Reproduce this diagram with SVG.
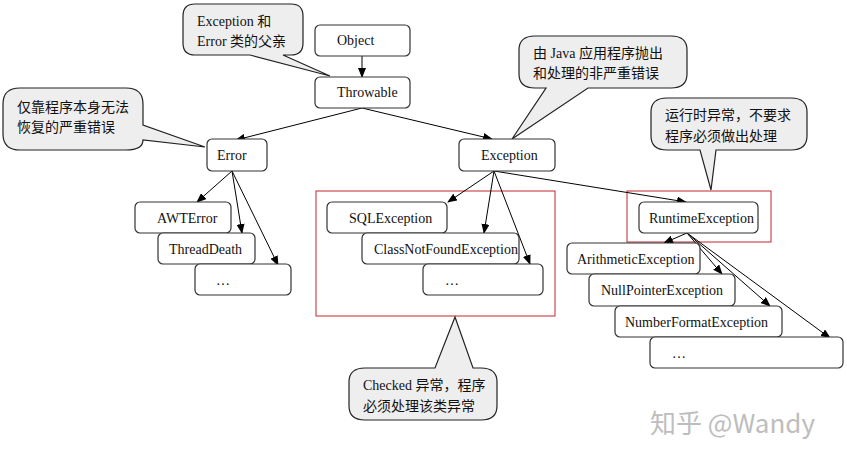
<svg xmlns="http://www.w3.org/2000/svg" width="847" height="460" viewBox="0 0 847 460">
<style>
.n{fill:#fff;stroke:#333;stroke-width:1.2}
.t{font-family:"Liberation Serif","Noto Sans CJK SC",serif;font-size:14px;fill:#111}
.c{fill:#eeeeee;stroke:#222;stroke-width:1.2}
.ct{font-family:"Liberation Serif","Noto Sans CJK SC",serif;font-size:14px;fill:#111}
.r{fill:none;stroke:#c0282e;stroke-width:1}
.e{stroke:#000;stroke-width:1;fill:none;marker-end:url(#a)}
</style>
<defs><marker id="a" markerWidth="10" markerHeight="8" refX="9" refY="4" orient="auto" markerUnits="userSpaceOnUse"><path d="M0,0L10,4L0,8z" fill="#000"/></marker></defs>
<rect width="847" height="460" fill="#fff"/>
<rect class="r" x="316" y="191" width="239" height="125"/>
<rect class="r" x="627" y="191" width="144" height="51"/>
<g id="callouts">
<g id="c1"><path class="c" d="M195,4H291Q303,4 303,16V43Q303,55 291,55H283L330,76L250,55H195Q183,55 183,43V16Q183,4 195,4Z"/><text class="ct" x="197" y="26">Exception 和</text><text class="ct" x="197" y="46">Error  类的父亲</text></g>
<g id="c2"><path class="c" d="M20,88H126Q143,88 143,104V125L205,147L143,140Q143,150 126,150H20Q3,150 3,134V104Q3,88 20,88Z"/><text class="ct" x="17" y="112">仅靠程序本身无法</text><text class="ct" x="17" y="132">恢复的严重错误</text></g>
<g id="c3"><path class="c" d="M535,36H671Q687,36 687,50V74Q687,88 671,88H588L512,139L546,88H535Q519,88 519,74V50Q519,36 535,36Z"/><text class="ct" x="533" y="58">由  Java  应用程序抛出</text><text class="ct" x="533" y="78">和处理的非严重错误</text></g>
<g id="c4"><path class="c" d="M667,98H791Q807,98 807,112V136Q807,150 791,150H716L711,190L700,150H667Q651,150 651,136V112Q651,98 667,98Z"/><text class="ct" x="665" y="120">运行时异常，不要求</text><text class="ct" x="665" y="141">程序必须做出处理</text></g>
<g id="c5"><path class="c" d="M365,368H435L455,317L473,368H481Q497,368 497,382V406Q497,420 481,420H365Q349,420 349,406V382Q349,368 365,368Z"/><text class="ct" x="363" y="390">Checked  异常，程序</text><text class="ct" x="363" y="411">必须处理该类异常</text></g>
</g>
<g id="edges">
<path class="e" d="M362,56L362,77"/>
<path class="e" d="M362,108L236,140"/>
<path class="e" d="M362,108L492,139"/>
<path class="e" d="M232,171L197,202"/>
<path class="e" d="M232,171L242,233"/>
<path class="e" d="M232,171L278,265"/>
<path class="e" d="M494,171L448,202"/>
<path class="e" d="M494,171L484,233"/>
<path class="e" d="M494,171L530,264"/>
<path class="e" d="M494,171L686,202"/>
<path class="e" d="M687,233L664,243"/>
<path class="e" d="M687,233L722,274"/>
<path class="e" d="M687,233L770,306"/>
<path class="e" d="M687,233L830,338"/>
</g>
<g id="object"><rect class="n" x="315" y="25" width="95" height="31" rx="5"/><text class="t" x="337" y="45">Object</text></g>
<g id="throwable"><rect class="n" x="315" y="77" width="95" height="31" rx="5"/><text class="t" x="337" y="97">Throwable</text></g>
<g id="error"><rect class="n" x="207" y="139" width="60" height="32" rx="5"/><text class="t" x="217" y="160">Error</text></g>
<g id="exception"><rect class="n" x="459" y="139" width="96" height="32" rx="5"/><text class="t" x="481" y="160">Exception</text></g>
<g id="awterror"><rect class="n" x="135" y="202" width="96" height="31" rx="5"/><text class="t" x="157" y="223">AWTError</text></g>
<g id="threaddeath"><rect class="n" x="158" y="233" width="97" height="31" rx="5"/><text class="t" x="169" y="254">ThreadDeath</text></g>
<g id="errmore"><rect class="n" x="195" y="264" width="96" height="31" rx="5"/><text class="t" x="216" y="285">…</text></g>
<g id="sql"><rect class="n" x="327" y="202" width="120" height="31" rx="5"/><text class="t" x="349" y="223">SQLException</text></g>
<g id="cnf"><rect class="n" x="362" y="233" width="157" height="31" rx="5"/><text class="t" x="374" y="254">ClassNotFoundException</text></g>
<g id="chkmore"><rect class="n" x="423" y="264" width="120" height="31" rx="5"/><text class="t" x="445" y="285">…</text></g>
<g id="runtime"><rect class="n" x="639" y="202" width="119" height="31" rx="5"/><text class="t" x="649" y="223">RuntimeException</text></g>
<g id="arith"><rect class="n" x="567" y="243" width="133" height="31" rx="5"/><text class="t" x="577" y="264">ArithmeticException</text></g>
<g id="npe"><rect class="n" x="589" y="274" width="146" height="32" rx="5"/><text class="t" x="601" y="295">NullPointerException</text></g>
<g id="nfe"><rect class="n" x="615" y="306" width="167" height="31" rx="5"/><text class="t" x="625" y="327">NumberFormatException</text></g>
<g id="rtmore"><rect class="n" x="650" y="337" width="193" height="31" rx="5"/><text class="t" x="672" y="358">…</text></g>
<text x="650" y="433" font-family="'Noto Sans CJK SC','Noto Sans',sans-serif" font-size="26" fill="#bdbdbd">知乎 @Wandy</text>
</svg>
